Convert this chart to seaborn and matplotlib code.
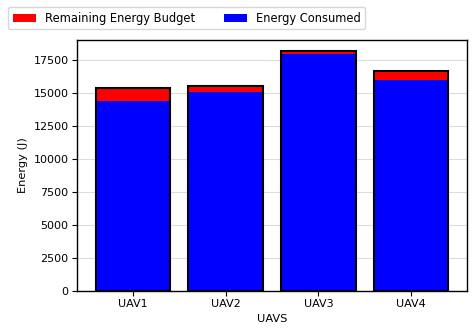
import matplotlib
matplotlib.use("Agg")
import matplotlib.pyplot as plt
from matplotlib.patches import Patch
import seaborn as sns
import pandas as pd

uavs = ["UAV1", "UAV2", "UAV3", "UAV4"]
total_budget = [15400, 15550, 18200, 16700]
energy_consumed = [14450, 15100, 17950, 16000]

df = pd.DataFrame({"UAV": uavs, "Total": total_budget, "Consumed": energy_consumed})

plt.rcParams["font.family"] = ["DejaVu Sans"]
fig, ax = plt.subplots(figsize=(4.74, 3.36), dpi=100)
ax.set_axisbelow(True)
ax.grid(True, color="#dcdcdc", linewidth=0.8)

sns.barplot(data=df, x="UAV", y="Total", color="red", saturation=1, linewidth=0,
            width=0.8, ax=ax)
sns.barplot(data=df, x="UAV", y="Consumed", color="blue", saturation=1, linewidth=0,
            width=0.8, ax=ax)
sns.barplot(data=df, x="UAV", y="Total", fill=False, edgecolor="black",
            linewidth=1.5, width=0.8, ax=ax)

ax.set_xlabel("UAVS", fontsize=8.2, labelpad=3)
ax.set_ylabel("Energy (J)", fontsize=8.2, labelpad=4)
ax.tick_params(labelsize=8, length=3.5, pad=2.5)
ax.set_ylim(0, 19050)
ax.set_xlim(-0.6, 3.6)
for s in ax.spines.values():
    s.set_color("black")
    s.set_linewidth(1.0)

handles = [Patch(facecolor="red", edgecolor="none", label="Remaining Energy Budget"),
           Patch(facecolor="blue", edgecolor="none", label="Energy Consumed")]
fig.legend(handles=handles, loc="upper left", bbox_to_anchor=(8 / 474, 1 - 7 / 336),
           ncol=2, frameon=True, fontsize=8.3, borderaxespad=0.0, handlelength=2.0,
           columnspacing=2.5)
fig.subplots_adjust(left=77 / 474, right=467 / 474, top=1 - 40 / 336, bottom=1 - 291 / 336)
fig.savefig("out.png", dpi=100)
